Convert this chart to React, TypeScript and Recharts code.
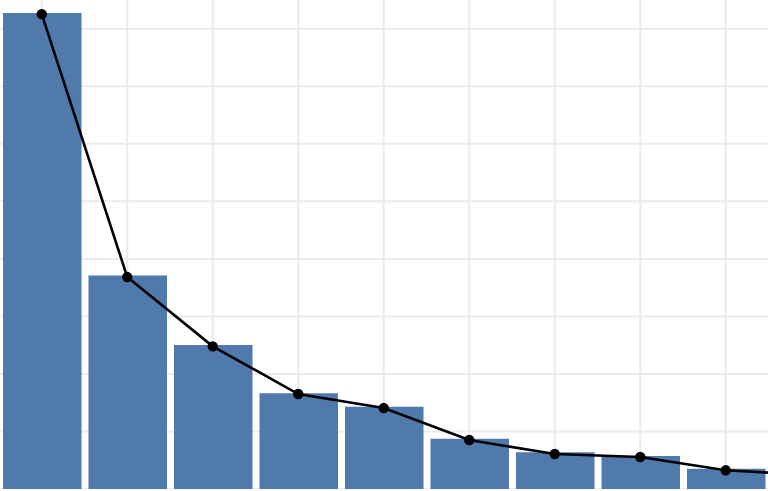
import React from "react";
import { ComposedChart, Bar, Line, XAxis, YAxis, CartesianGrid } from "recharts";

const categories = ["A", "B", "C", "D", "E", "F", "G", "H", "I", "J"];
const barValues = [82.76, 37.13, 25.02, 16.63, 14.3, 8.74, 6.38, 5.73, 3.53, 2.8];
const lineValues = [82.54, 36.84, 24.8, 16.51, 14.07, 8.51, 6.08, 5.56, 3.25, 2.43];
const yTicks = [0, 10, 20, 30, 40, 50, 60, 70, 80];

const data = categories.map((c, i) => ({ name: c, bar: barValues[i], line: lineValues[i] }));

const renderDot = (p: any) => (
  <circle key={`d-${p.index}`} cx={p.cx} cy={p.cy} r={5.2} fill="#000" stroke="none" />
);

export default function App() {
  return (
    <div style={{ position: "fixed", left: 0, top: 0, width: 768, height: 491, overflow: "hidden", background: "#fff" }}>
      <div style={{ position: "absolute", left: -21.5, top: -30 }}>
        <ComposedChart width={875} height={519} data={data} margin={{ top: 0, right: 0, bottom: 0, left: 0 }}>
          <CartesianGrid stroke="#ebebeb" strokeWidth={2} />
          <XAxis dataKey="name" hide padding={{ left: 20, right: 0 }} />
          <YAxis hide domain={[0, 85]} ticks={yTicks} padding={{ top: 30, bottom: 0 }} />
          <Bar dataKey="bar" fill="#4f7aab" barSize={78.5} isAnimationActive={false} />
          <Line
            dataKey="line"
            stroke="#000"
            strokeWidth={2.6}
            dot={renderDot}
            activeDot={false}
            isAnimationActive={false}
          />
        </ComposedChart>
      </div>
    </div>
  );
}
